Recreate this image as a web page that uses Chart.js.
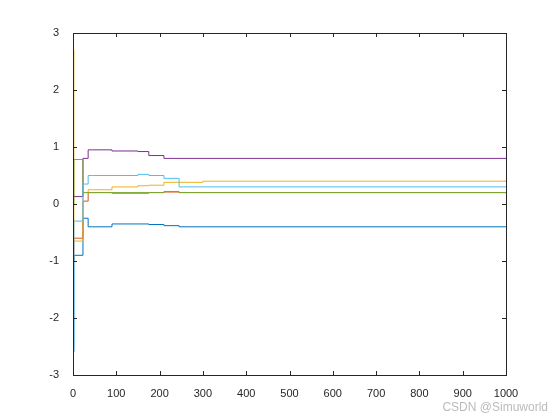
<!DOCTYPE html>
<html><head><meta charset="utf-8">
<script src="https://cdn.jsdelivr.net/npm/chart.js@4"></script>
<style>body{margin:0;background:#fff}#w{position:relative;width:560px;height:420px}
#wm{position:absolute;right:12px;bottom:6px;font:12px "Liberation Sans",Arial;color:#bbb}</style>
</head><body><div id="w"><canvas id="c" width="560" height="420"></canvas><div id="wm">CSDN @Simuworld</div></div>
<script>
const xs = [0, 2, 23, 35, 45, 90, 150, 175, 210, 245, 300, 1000];
const blue   = [-2.6, -0.9, -0.25, -0.4, -0.4, -0.35, -0.35, -0.36, -0.38, -0.4, -0.4, -0.4];
const orange = [-1.0, -0.6, 0.05, 0.2, 0.2, 0.19, 0.19, 0.2, 0.21, 0.2, 0.2, 0.2];
const yellow = [2.7, -0.65, 0.2, 0.25, 0.25, 0.3, 0.32, 0.33, 0.38, 0.38, 0.4, 0.42];
const purple = [0.15, 0.13, 0.8, 0.95, 0.95, 0.93, 0.92, 0.85, 0.8, 0.8, 0.8, 0.8];
const green  = [0.0, 0.78, 0.2, 0.2, 0.2, 0.2, 0.2, 0.2, 0.22, 0.2, 0.2, 0.2];
const cyan   = [-2.5, -0.3, 0.35, 0.5, 0.5, 0.5, 0.52, 0.5, 0.45, 0.3, 0.3, 0.3];
const xTicks = [0, 100, 200, 300, 400, 500, 600, 700, 800, 900, 1000];
const yTicks = [-3, -2, -1, 0, 1, 2, 3];

const series = [
  [blue, '#0072BD'], [orange, '#D95319'], [yellow, '#EDB120'],
  [purple, '#7E2F8E'], [green, '#77AC30'], [cyan, '#4DBEEE']
];

// box around the plot area plus inward ticks, like matlab's default axes
const box = {
  id: 'box',
  afterDraw(chart) {
    const a = chart.chartArea, ctx = chart.ctx;
    const sx = chart.scales.x, sy = chart.scales.y;
    ctx.save();
    ctx.strokeStyle = '#262626';
    ctx.lineWidth = 1;
    ctx.strokeRect(a.left + 0.5, a.top + 0.5, a.right - a.left, a.bottom - a.top);
    ctx.beginPath();
    xTicks.forEach(v => {
      const p = Math.round(sx.getPixelForValue(v)) + 0.5;
      ctx.moveTo(p, a.bottom); ctx.lineTo(p, a.bottom - 4);
      ctx.moveTo(p, a.top); ctx.lineTo(p, a.top + 4);
    });
    yTicks.forEach(v => {
      const p = Math.round(sy.getPixelForValue(v)) + 0.5;
      ctx.moveTo(a.left, p); ctx.lineTo(a.left + 4, p);
      ctx.moveTo(a.right, p); ctx.lineTo(a.right - 4, p);
    });
    ctx.stroke();
    ctx.restore();
  }
};

const font = { family: '"Liberation Sans", Arial', size: 11 };
new Chart(document.getElementById('c'), {
  type: 'line',
  data: {
    // later series drawn on top, as in matlab
    datasets: series.map(([ys, col], i) => ({
      data: xs.map((x, k) => ({ x, y: ys[k] })),
      borderColor: col, borderWidth: 1, pointRadius: 0, stepped: 'before',
      order: series.length - i
    }))
  },
  options: {
    responsive: false, animation: false,
    layout: { padding: { top: 33, right: 54, left: 0, bottom: 0 } },
    plugins: { legend: { display: false }, tooltip: { enabled: false } },
    scales: {
      x: {
        type: 'linear', min: 0, max: 1000,
        afterFit(s) { s.height = 45; },
        afterBuildTicks(s) { s.ticks = xTicks.map(v => ({ value: v })); },
        grid: { display: false }, border: { display: false },
        ticks: { font, color: '#262626', maxRotation: 0, padding: 4, callback: v => String(v) }
      },
      y: {
        min: -3, max: 3,
        afterFit(s) { s.width = 73; },
        afterBuildTicks(s) { s.ticks = yTicks.map(v => ({ value: v })); },
        grid: { display: false }, border: { display: false },
        ticks: { font, color: '#262626', padding: 6, callback: v => String(v) }
      }
    }
  },
  plugins: [box]
});
</script></body></html>
